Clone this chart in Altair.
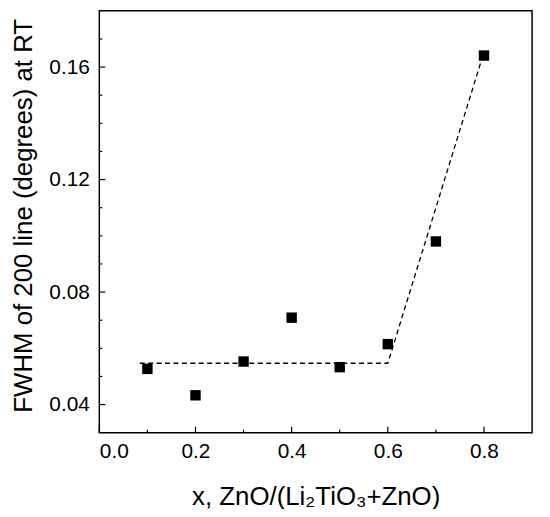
import altair as alt
import pandas as pd

# measured FWHM of the 200 line vs ZnO fraction
x_values = [0.1, 0.2, 0.3, 0.4, 0.5, 0.6, 0.7, 0.8]
fwhm_values = [0.0527, 0.0433, 0.0553, 0.0709, 0.0533, 0.0615, 0.098, 0.1641]

# dashed guide line (flat part + rising part)
fit_x = [0.084, 0.6, 0.795]
fit_y = [0.0547, 0.0547, 0.1626]

# tick positions
x_major = [0.0, 0.2, 0.4, 0.6, 0.8]
x_minor = [0.1, 0.3, 0.5, 0.7]
y_major = [0.04, 0.08, 0.12, 0.16]
y_minor = [0.05, 0.06, 0.07, 0.09, 0.10, 0.11, 0.13, 0.14, 0.15, 0.17]

X_MIN, X_MAX = 0.0, 0.9
Y_MIN, Y_MAX = 0.03, 0.18

points_df = pd.DataFrame({'x': x_values, 'fwhm': fwhm_values})
fit_df = pd.DataFrame({'x': fit_x, 'fwhm': fit_y})

FONT = 'Liberation Sans'

x_scale = alt.Scale(domain=[X_MIN, X_MAX], nice=False, zero=False)
y_scale = alt.Scale(domain=[Y_MIN, Y_MAX], nice=False, zero=False)

# axes carry only labels and titles; ticks are drawn inward as tick marks
x_axis = alt.Axis(values=x_major, format='.1f', ticks=False, domain=False,
                  grid=False, labelFont=FONT, labelFontSize=21, labelColor='black',
                  labelPadding=8, title='x, ZnO/(Li₂TiO₃+ZnO)', titleFont=FONT,
                  titleFontSize=26, titleFontWeight='normal', titleColor='black',
                  titleBaseline='alphabetic', titleY=72)
y_axis = alt.Axis(values=y_major, format='.2f', ticks=False, domain=False,
                  grid=False, labelFont=FONT, labelFontSize=21, labelColor='black',
                  labelPadding=10, title='FWHM of 200 line (degrees) at RT', titleFont=FONT,
                  titleFontSize=26, titleFontWeight='normal', titleColor='black',
                  titleBaseline='alphabetic', titleX=-68, titleY=206)


def x_ticks(vals, length):
    return alt.Chart(pd.DataFrame({'t': vals})).mark_tick(
        orient='vertical', size=length, thickness=1.2, color='black', opacity=1,
        yOffset=-length / 2
    ).encode(
        x=alt.X('t:Q', scale=x_scale, axis=x_axis),
        y=alt.Y(datum=Y_MIN, scale=y_scale, axis=y_axis)
    )


def y_ticks(vals, length):
    return alt.Chart(pd.DataFrame({'t': vals})).mark_tick(
        orient='horizontal', size=length, thickness=1.2, color='black', opacity=1,
        xOffset=length / 2
    ).encode(
        x=alt.X(datum=X_MIN, scale=x_scale, axis=x_axis),
        y=alt.Y('t:Q', scale=y_scale, axis=y_axis)
    )


fit = alt.Chart(fit_df).mark_line(color='black', strokeWidth=1.3, strokeDash=[5, 3.5]).encode(
    x=alt.X('x:Q', scale=x_scale, axis=x_axis),
    y=alt.Y('fwhm:Q', scale=y_scale, axis=y_axis)
)

points = alt.Chart(points_df).mark_point(shape='square', filled=True, size=110,
                                         color='black', opacity=1).encode(
    x=alt.X('x:Q', scale=x_scale, axis=x_axis),
    y=alt.Y('fwhm:Q', scale=y_scale, axis=y_axis)
)

chart = alt.layer(
    x_ticks(x_major, 6), x_ticks(x_minor, 3),
    y_ticks(y_major, 6), y_ticks(y_minor, 3),
    fit, points
).properties(
    width=436,
    height=425,
    autosize=alt.AutoSizeParams(type='none'),
    padding={'left': 92, 'top': 1, 'right': 10, 'bottom': 75},
    background='white'
).configure_view(
    stroke='black',
    strokeWidth=1.5
)

chart.save("out.html", embed_options={"renderer": "svg", "actions": False})
